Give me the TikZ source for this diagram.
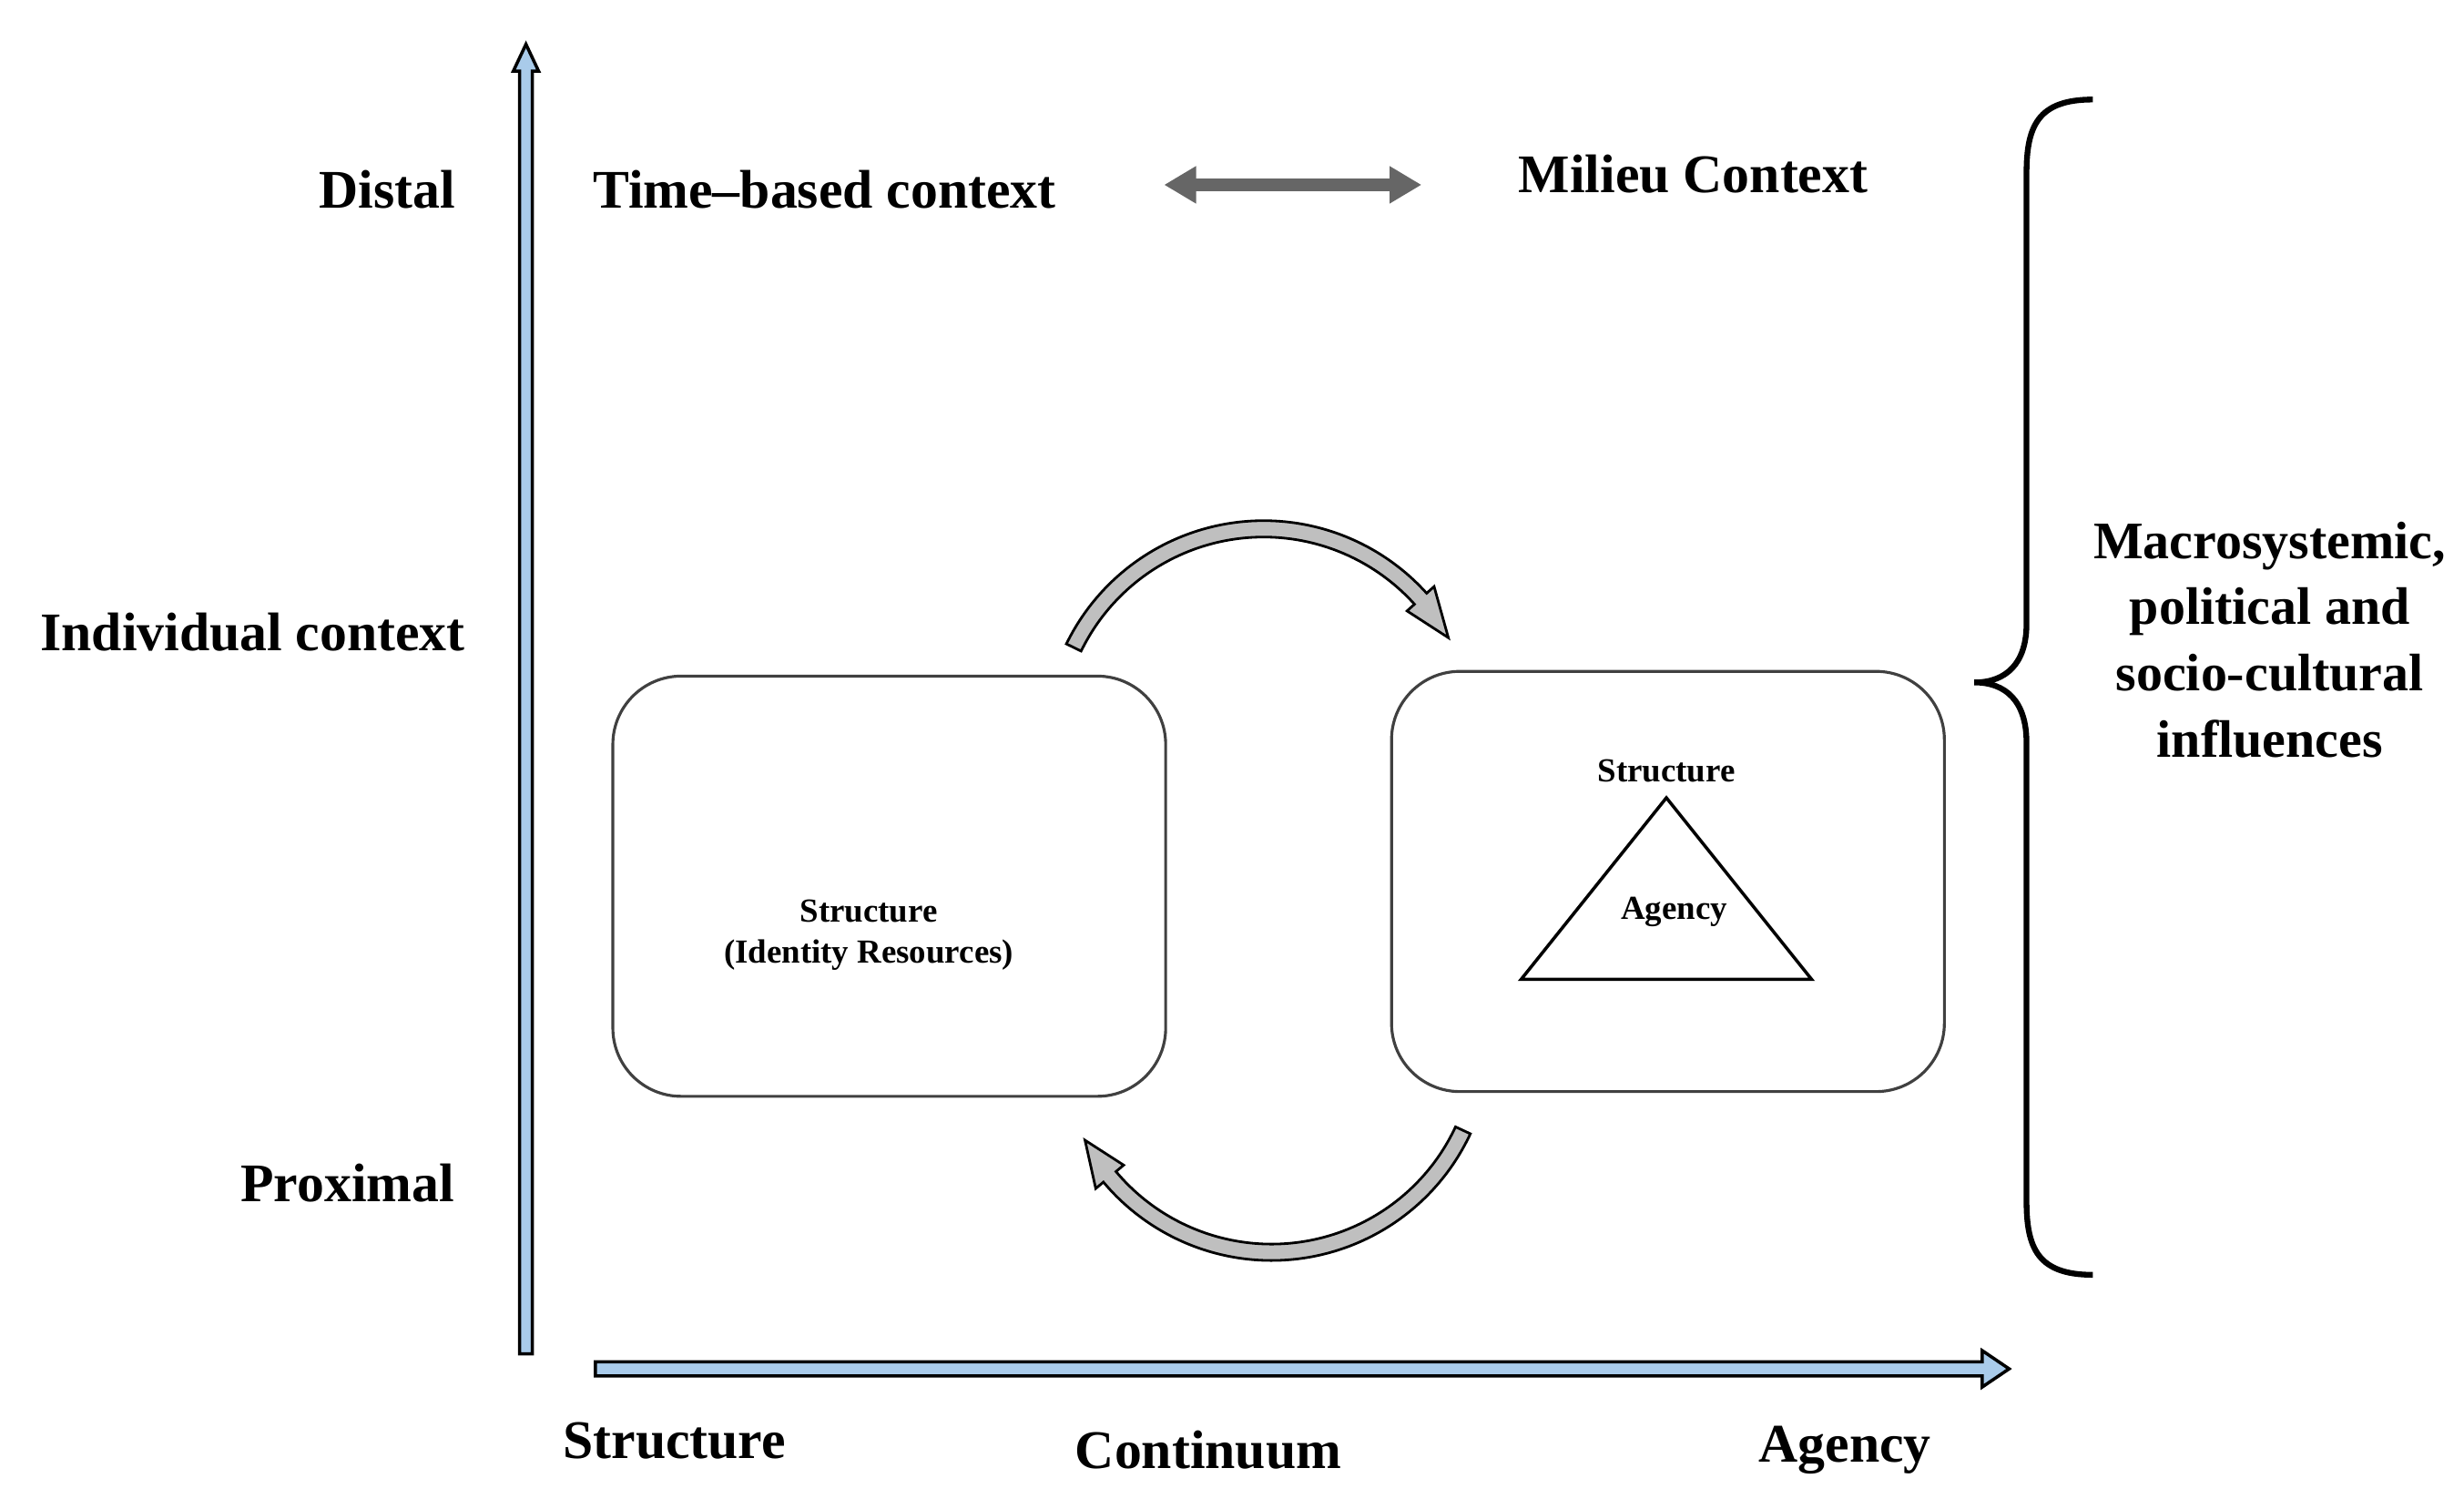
\documentclass[tikz,border=0pt]{standalone}
\usepackage{fontspec}
\setmainfont{Liberation Serif}
\usetikzlibrary{arrows.meta}
\definecolor{axisblue}{HTML}{A9CBEA}
\begin{document}
\begin{tikzpicture}[x=0.01735cm,y=-0.01735cm,
  lab/.style={font=\fontsize{17}{20}\selectfont\bfseries, inner sep=0pt},
  small/.style={font=\fontsize{10.5}{13}\selectfont\bfseries, inner sep=0pt, align=center},
  box/.style={draw=black!75, line width=0.9pt, rounded corners=0.75cm},
  band/.style={draw=black, line width=0.8pt, fill=black!25}]
\useasboundingbox (0,0) rectangle (1560,955);
% axes
\draw[fill=axisblue, line width=1pt] (329,857) -- (329,45) -- (325,45) -- (333,28) -- (341,45) -- (337,45) -- (337,857) -- cycle;
\draw[fill=axisblue, line width=1pt] (377,862) -- (1255,862) -- (1255,855) -- (1272,866.5) -- (1255,878) -- (1255,871) -- (377,871) -- cycle;
% labels
\node[lab] (distal) at (245,120) {Distal};
\node[lab] (time) at (522,120) {Time–based context};
\node[lab] (milieu) at (1072,110) {Milieu Context};
\node[lab] (indiv) at (160,400) {Individual context};
\node[lab] (prox) at (220,749) {Proximal};
\node[lab] (sstr) at (427,912) {Structure};
\node[lab] (cont) at (765,918) {Continuum};
\node[lab] (sag) at (1168,918) {Agency};
\node[lab, align=center, font=\fontsize{16.5}{20.7}\selectfont\bfseries] (macro) at (1437,405) {Macrosystemic,\\political and\\socio-cultural\\influences};
\coordinate (dl) at (737,117);
\coordinate (dr) at (900,117);
\draw[line width=4pt, black!60, {Triangle[length=10pt,width=11pt]}-{Triangle[length=10pt,width=11pt]}] (dl) -- (dr);
% boxes
\draw[box] (388,428) rectangle (738,694);
\node[small] (b1) at (550,592) {Structure\\(Identity Resources)};
\draw[box] (881,425) rectangle (1231,691);
\node[small] (b2s) at (1055,488) {Structure};
\coordinate (t1) at (963,620); \coordinate (t2) at (1147,620); \coordinate (t3) at (1055,505);
\draw[line width=1pt] (t1) -- (t2) -- (t3) -- cycle;
\node[small] (b2a) at (1060,577) {Agency};
% curved arrows
\begin{scope}[shift={(800,468.5)}, x=1cm, y=1cm]
\draw[band] (154:2.41) arc[start angle=154, end angle=42, radius=2.41] -- (42:2.52) -- (29:2.32) -- (42:2.12) -- (42:2.23) arc[start angle=42, end angle=154, radius=2.23] -- cycle;
\end{scope}
\begin{scope}[shift={(805,659)}, x=1cm, y=1cm]
\draw[band] (-25:2.41) arc[start angle=-25, end angle=-140, radius=2.41] -- (-140:2.52) -- (-152:2.32) -- (-140:2.12) -- (-140:2.23) arc[start angle=-140, end angle=-25, radius=2.23] -- cycle;
\end{scope}
% brace
\draw[line width=1.8pt] (1325,63) .. controls (1290,63) and (1283,80) .. (1283,110) -- (1283,395) .. controls (1283,420) and (1270,432) .. (1250,432) .. controls (1270,432) and (1283,444) .. (1283,470) -- (1283,760) .. controls (1283,790) and (1290,807) .. (1325,807);
\end{tikzpicture}
\end{document}
